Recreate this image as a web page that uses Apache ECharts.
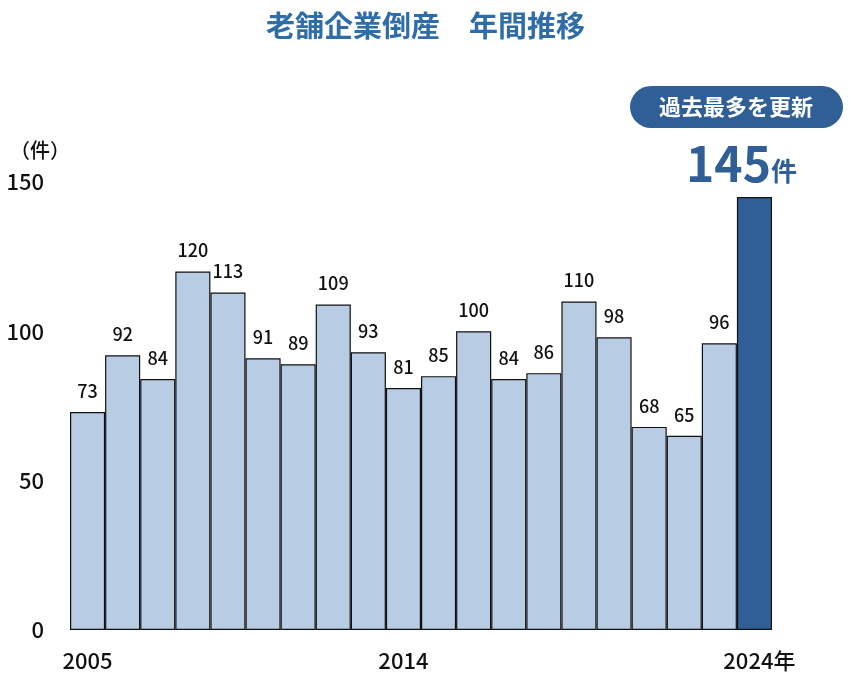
<!DOCTYPE html>
<html lang="ja">
<head>
<meta charset="utf-8">
<title>老舗企業倒産 年間推移</title>
<script src="https://cdn.jsdelivr.net/npm/echarts@6/dist/echarts.min.js"></script>
<style>
  html, body { margin: 0; padding: 0; background: #fff; }
  #main { width: 851px; height: 690px; }
</style>
</head>
<body>
<div id="main"></div>
<script>
// データ
var years = ['2005', '2006', '2007', '2008', '2009', '2010', '2011', '2012', '2013', '2014',
             '2015', '2016', '2017', '2018', '2019', '2020', '2021', '2022', '2023', '2024'];
var counts = [73, 92, 84, 120, 113, 91, 89, 109, 93, 81, 85, 100, 84, 86, 110, 98, 68, 65, 96, 145];
var shownYears = ['2005', '2014', '2024'];

var font = '"Noto Sans CJK JP", "Noto Sans", sans-serif';
var chart = echarts.init(document.getElementById('main'));

var barData = counts.map(function (v, i) {
    var last = i === counts.length - 1;
    return {
        value: v,
        itemStyle: { color: last ? '#2f5f96' : '#b8cce4' },
        label: { show: !last }
    };
});

chart.setOption({
    animation: false,
    title: {
        text: '老舗企業倒産　年間推移',
        left: 'center',
        top: 6,
        textStyle: { color: '#2e6da8', fontSize: 29, fontWeight: 'bold', fontFamily: font }
    },
    grid: { left: 70, right: 79, top: 182, bottom: 60 },
    xAxis: {
        type: 'category',
        data: years,
        axisLine: { show: false },
        axisTick: { show: false },
        axisLabel: {
            interval: 0,
            margin: 20,
            fontSize: 22,
            fontWeight: 500,
            color: '#111',
            fontFamily: font,
            formatter: function (v) {
                if (v === '2024') return '  2024年';
                return shownYears.indexOf(v) >= 0 ? v : '';
            }
        }
    },
    yAxis: {
        type: 'value',
        min: 0, max: 150, interval: 50,
        name: '（件）',
        nameLocation: 'end',
        nameGap: 22,
        nameTextStyle: { color: '#111', fontSize: 20, fontWeight: 500, fontFamily: font, align: 'right' },
        splitLine: { show: false },
        axisLine: { show: false },
        axisTick: { show: false },
        axisLabel: { margin: 26, fontSize: 22, fontWeight: 500, color: '#111', fontFamily: font }
    },
    series: [{
        type: 'bar',
        data: barData,
        barCategoryGap: '0%',
        itemStyle: { borderColor: '#111', borderWidth: 1.2 },
        label: {
            position: 'top',
            distance: 12,
            fontSize: 18,
            fontWeight: 500,
            color: '#111',
            fontFamily: font
        }
    }],
    graphic: [
        {
            type: 'rect',
            x: 630, y: 86,
            shape: { x: 0, y: 0, width: 213, height: 42, r: 21 },
            style: { fill: '#2f5f96' }
        },
        {
            type: 'text',
            x: 736, y: 107,
            style: { text: '過去最多を更新', fill: '#fff', font: 'bold 22px ' + font, textAlign: 'center', textVerticalAlign: 'middle' }
        },
        {
            type: 'text', x: 686, y: 140,
            style: { text: '{n|145}{u|件}', rich: {
                n: { fontSize: 48, fontWeight: 'bold', fill: '#2f5f96', fontFamily: font, verticalAlign: 'bottom' },
                u: { fontSize: 26, fontWeight: 'bold', fill: '#2f5f96', fontFamily: font, verticalAlign: 'bottom', padding: [0, 0, 4, 0] }
            } }
        }
    ]
});
</script>
</body>
</html>
